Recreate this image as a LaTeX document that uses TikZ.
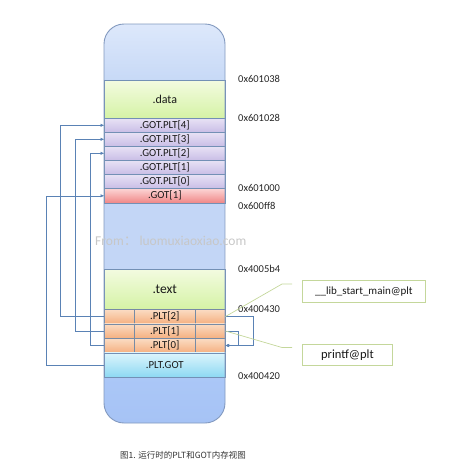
\documentclass[tikz,border=0pt]{standalone}
\usepackage{fontspec}
\setmainfont{Carlito}
\newfontfamily\cjk{Noto Sans CJK SC}
\usetikzlibrary{arrows.meta}
\definecolor{edge}{HTML}{8299BF}
\definecolor{rowline}{HTML}{7390B5}
\definecolor{conncol}{HTML}{5A82B5}
\definecolor{callcol}{HTML}{C4D79B}
\definecolor{blueA}{HTML}{DDE8FB}
\definecolor{blueB}{HTML}{C7D9F6}
\definecolor{blueC}{HTML}{C3D6F6}
\definecolor{blueD}{HTML}{ABC7F7}
\definecolor{blueE}{HTML}{A6C3F5}
\definecolor{greenA}{HTML}{F3FBE0}
\definecolor{greenB}{HTML}{D5F3A5}
\definecolor{purpA}{HTML}{E8E2F5}
\definecolor{purpB}{HTML}{C9BEE6}
\definecolor{redA}{HTML}{FCD6D6}
\definecolor{redB}{HTML}{F08585}
\definecolor{orA}{HTML}{FBDCC4}
\definecolor{orB}{HTML}{F5B080}
\definecolor{cyA}{HTML}{DDF5FC}
\definecolor{cyB}{HTML}{8ED9F3}
\tikzset{
  sec/.style={draw=rowline, line width=0.6pt, inner sep=0pt, minimum width=121pt, anchor=north west, font=\fontsize{10.8}{12}\selectfont, text=black!90},
  gotplt/.style={sec, minimum height=14pt, top color=purpA, bottom color=purpB},
  pltcell/.style={draw=rowline!70!gray, line width=0.5pt, inner sep=0pt, minimum height=14.5pt, anchor=north west, top color=orA, bottom color=orB, font=\fontsize{10.8}{12}\selectfont, text=black!90},
  addr/.style={anchor=west, inner sep=0pt, font=\fontsize{10.5}{12}\selectfont, text=black!85},
  conn/.style={draw=conncol, line width=0.6pt},
  tip/.style={-{Triangle[length=3.5pt,width=3pt]}},
  callout/.style={draw=callcol, line width=0.7pt},
  callbox/.style={draw=callcol, line width=0.9pt, fill=white, inner sep=0pt, anchor=north west, text=black!90}
}
\begin{document}
\begin{tikzpicture}[x=1pt,y=-1pt]
\useasboundingbox (0,0) rectangle (474,475);
\begin{scope}
\clip[rounded corners=20pt] (104,24) rectangle (225,423);
\shade[top color=blueA, bottom color=blueB] (104,24) rectangle (225,80);
\fill[blueC] (104,203) rectangle (225,269);
\shade[top color=blueD, bottom color=blueE] (104,376) rectangle (225,423);
\end{scope}
% sections
\node[sec, minimum height=38pt, top color=greenA, bottom color=greenB, font=\fontsize{12}{14}\selectfont] (data) at (104,80) {.data};
\node[gotplt] (gp4) at (104,118) {.GOT.PLT[4]};
\node[gotplt] (gp3) at (104,132) {.GOT.PLT[3]};
\node[gotplt] (gp2) at (104,146) {.GOT.PLT[2]};
\node[gotplt] (gp1) at (104,160) {.GOT.PLT[1]};
\node[gotplt] (gp0) at (104,174) {.GOT.PLT[0]};
\node[sec, minimum height=15pt, top color=redA, bottom color=redB] (got1) at (104,188) {.GOT[1]};
\node[sec, minimum height=40pt, top color=greenA, bottom color=greenB, font=\fontsize{13.5}{15}\selectfont] (text) at (104,269) {.text};
% PLT rows (three cells each)
\foreach \r/\y/\t in {2/309/{.PLT[2]}, 1/323.5/{.PLT[1]}, 0/338/{.PLT[0]}} {
  \node[pltcell, minimum width=30pt] (pl\r) at (104,\y) {};
  \node[pltcell, minimum width=61pt] (pc\r) at (134,\y) {\t};
  \node[pltcell, minimum width=30pt] (pr\r) at (195,\y) {};
}
\node[sec, minimum height=24pt, top color=cyA, bottom color=cyB] (pltgot) at (104,352.5) {.PLT.GOT};
% column outline
\draw[edge, line width=0.9pt, rounded corners=20pt] (104,24) rectangle (225,423);
% watermark
\node[anchor=west, inner sep=0pt, text=black!22, font=\fontsize{13.5}{15}\selectfont] (wm) at (95,241) {From{\cjk ：}\,luomuxiaoxiao.com};
% addresses
\node[addr] (a1) at (238,79) {0x601038};
\node[addr] (a2) at (238,118) {0x601028};
\node[addr] (a3) at (238,188) {0x601000};
\node[addr] (a4) at (238,205.5) {0x600ff8};
\node[addr] (a5) at (238,269) {0x4005b4};
\node[addr] (a6) at (238,309) {0x400430};
\node[addr] (a7) at (238,376) {0x400420};
% left connectors
\draw[conn, tip] (pl2.west) -- ++(-44,0) |- (gp4.west);
\draw[conn, tip] (pl1.west) -- ++(-29,0) |- (gp3.west);
\draw[conn, tip] (pl0.west) -- ++(-14,0) |- (gp2.west);
\draw[conn, tip] (pltgot.west) -- ++(-58,0) |- (got1.west);
% right loops
\draw[conn, tip] (pr2.east) -- ++(28,0) |- (pr0.east);
\draw[conn, tip] (pr1.east) -- ++(13,0) |- (pr0.east);
% callout boxes
\node[callbox, minimum width=123pt, minimum height=22pt, font=\fontsize{11}{13}\selectfont] (lib) at (302,280) {\_\_lib\_start\_main@plt};
\node[callbox, minimum width=90pt, minimum height=21pt, font=\fontsize{12.5}{14}\selectfont] (pf) at (302,344) {printf@plt};
\coordinate (k1) at (282,284);
\coordinate (k1e) at (292,284);
\coordinate (k2) at (282,347.5);
\coordinate (k2e) at (292,347.5);
\draw[callout] (pr2.east) -- (k1) -- (k1e);
\draw[callout] (pr1.east) -- (k2) -- (k2e);
% caption
\node[anchor=west, inner sep=0pt, font=\cjk\fontsize{8.5}{10}\selectfont, text=black!80] (cap) at (120,455) {图1. 运行时的PLT和GOT内存视图};
\end{tikzpicture}
\end{document}
